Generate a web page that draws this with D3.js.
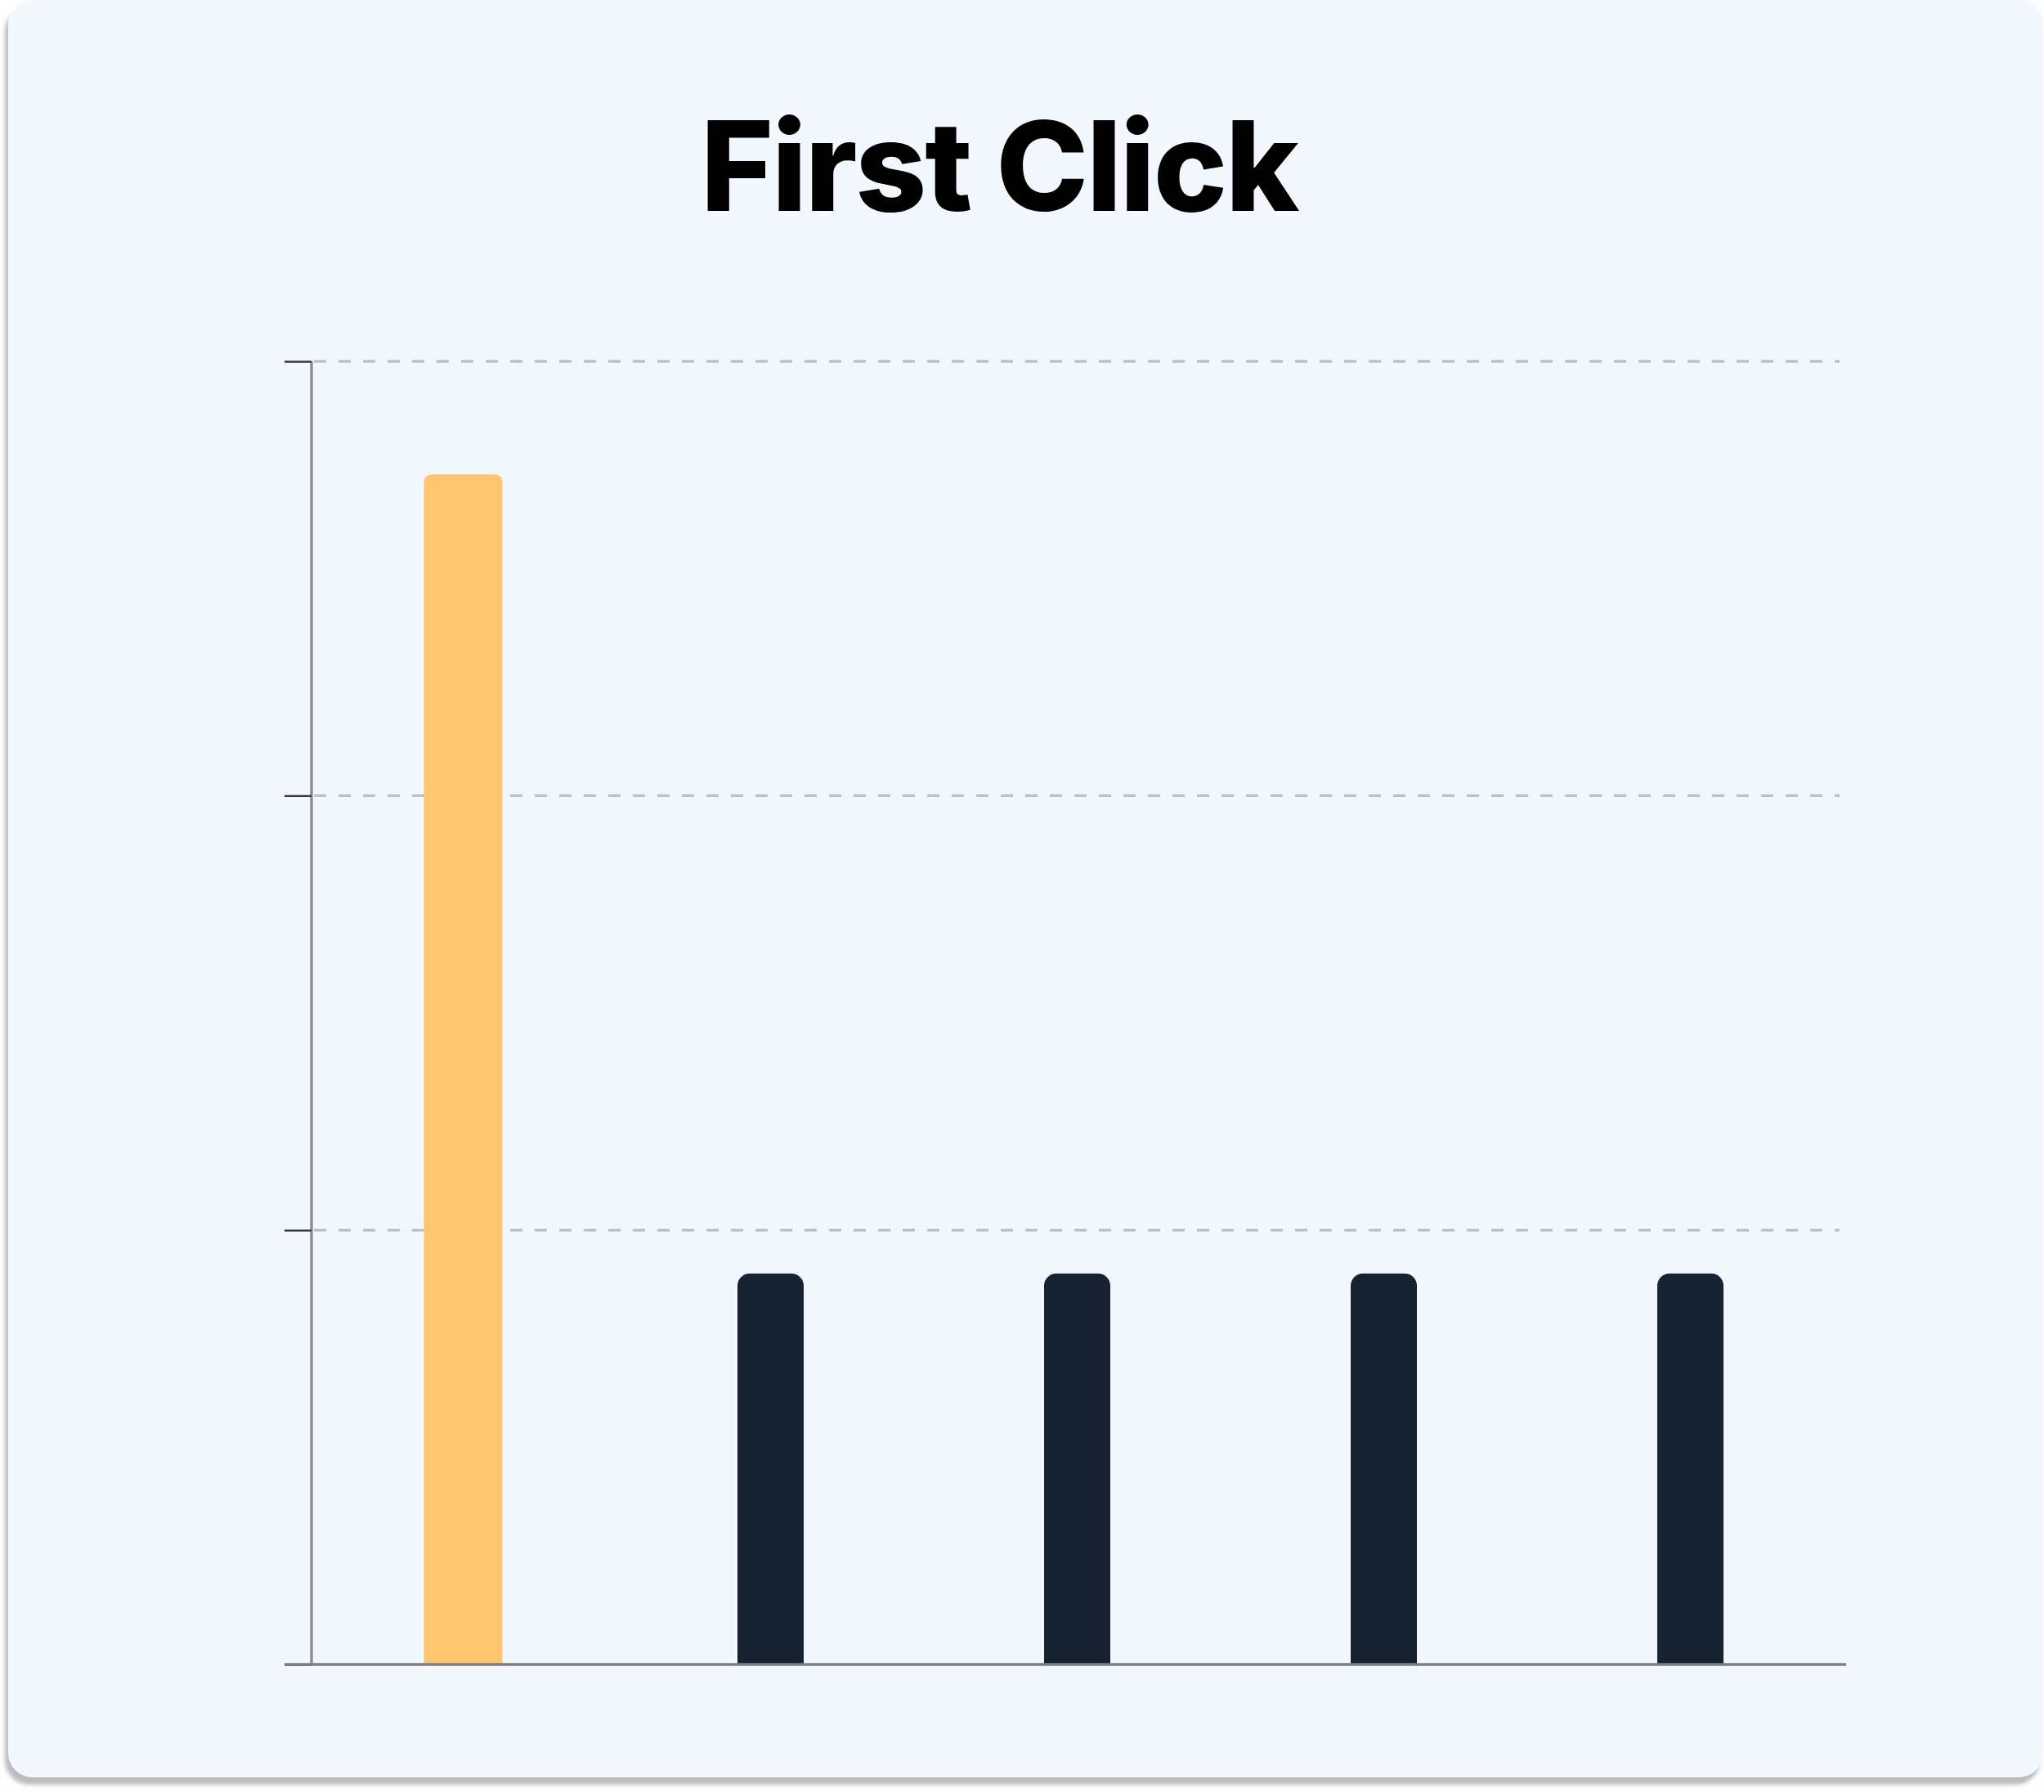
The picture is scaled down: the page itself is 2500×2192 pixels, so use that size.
<!DOCTYPE html>
<html>
<head>
<meta charset="utf-8">
<script src="https://cdn.jsdelivr.net/npm/d3@7"></script>
<style>
  html, body { margin: 0; padding: 0; background: #ffffff; }
  svg { display: block; }
</style>
</head>
<body>
<div id="chart"></div>
<script>
// Chart data
const categories = ["Option A", "Option B", "Option C", "Option D", "Option E"];
const values = [54.8, 18, 18, 18, 18];
const highlighted = ["Option A"];
const yTicks = [0, 20, 40, 60];
const chartTitle = "First Click";

const W = 2500, H = 2192;
const svg = d3.select("#chart").append("svg")
  .attr("width", W).attr("height", H);

// card shadow
const defs = svg.append("defs");
const f = defs.append("filter").attr("id", "cardShadow")
  .attr("x", "-5%").attr("y", "-5%").attr("width", "110%").attr("height", "110%");
f.append("feDropShadow")
  .attr("dx", -4).attr("dy", 9).attr("stdDeviation", 2.5)
  .attr("flood-color", "#8f8f8f").attr("flood-opacity", 0.6);

svg.append("rect")
  .attr("x", 10).attr("y", 0)
  .attr("width", 2489).attr("height", 2174)
  .attr("rx", 30)
  .attr("fill", "#f3f7fe")
  .attr("filter", "url(#cardShadow)");

// title
svg.append("text")
  .attr("x", 1222).attr("y", 258)
  .attr("text-anchor", "middle")
  .attr("font-family", "Inter, 'Liberation Sans', sans-serif")
  .attr("font-weight", 800)
  .attr("font-size", 152)
  .attr("letter-spacing", -2.2)
  .attr("fill", "#000")
  .text(chartTitle);

// scales
const x = d3.scaleBand().domain(categories).range([381, 2256]).padding(0);
const y = d3.scaleLinear().domain([0, 60]).range([2036, 442]);

// dashed gridlines
svg.append("g")
  .selectAll("line")
  .data(yTicks.filter(t => t > 0))
  .enter().append("line")
  .attr("x1", 384).attr("x2", 2250)
  .attr("y1", d => y(d)).attr("y2", d => y(d))
  .attr("stroke", "#bcc0c8")
  .attr("stroke-width", 3.5)
  .attr("stroke-dasharray", "15 15");

// bars with rounded tops
const barPath = (x0, w, yTop, yBase, r) =>
  `M${x0},${yBase}V${yTop + r}A${r},${r} 0 0 1 ${x0 + r},${yTop}` +
  `H${x0 + w - r}A${r},${r} 0 0 1 ${x0 + w},${yTop + r}V${yBase}Z`;

svg.append("g")
  .selectAll("path")
  .data(categories.map((c, i) => ({ c, v: values[i] })))
  .enter().append("path")
  .attr("d", d => {
    const hi = highlighted.includes(d.c);
    const w = x.bandwidth() * (hi ? 0.256 : 0.216);
    const cx = x(d.c) + x.bandwidth() / 2 - (hi ? 2 : 1);
    return barPath(cx - w / 2, w, y(d.v), y(0), hi ? 9 : 15);
  })
  .attr("fill", d => highlighted.includes(d.c) ? "#ffc670" : "#172232");

// y axis: ticks without labels
const yAxis = svg.append("g")
  .attr("transform", "translate(381,0)")
  .call(d3.axisLeft(y).tickValues(yTicks).tickSize(33).tickFormat(""));
yAxis.select(".domain")
  .attr("stroke", "#8b8e93").attr("stroke-width", 3.5)
  .attr("d", `M0,${y(60)}V${y(0)}`);
yAxis.selectAll(".tick line")
  .attr("stroke", "#33373c").attr("stroke-width", 2.5);

// baseline
const xAxis = svg.append("g")
  .attr("transform", `translate(0,${y(0)})`)
  .call(d3.axisBottom(x).tickSize(0).tickFormat(""));
xAxis.select(".domain")
  .attr("stroke", "#7c8085").attr("stroke-width", 3.5)
  .attr("d", "M348,0H2258");
</script>
</body>
</html>
